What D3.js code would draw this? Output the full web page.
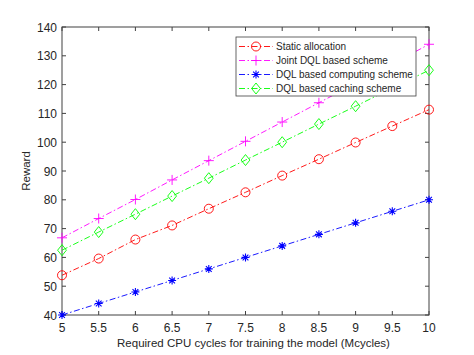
<!DOCTYPE html>
<html>
<head>
<meta charset="utf-8">
<script src="https://cdn.jsdelivr.net/npm/d3@7/dist/d3.min.js"></script>
<style>
  html, body { margin: 0; padding: 0; background: #fff; }
  svg text { font-family: "Liberation Sans", Arial, sans-serif; fill: #262626; }
</style>
</head>
<body>
<div id="chart"></div>
<script>
// data
var cycles = [5, 5.5, 6, 6.5, 7, 7.5, 8, 8.5, 9, 9.5, 10];
var staticAlloc = [53.8, 59.6, 66.2, 71.1, 76.9, 82.6, 88.4, 94.1, 99.9, 105.6, 111.3];
var jointDql    = [66.8, 73.5, 80.1, 86.9, 93.6, 100.3, 107, 113.7, 120.4, 127.1, 134];
var dqlCompute  = [40, 44, 48, 52, 56, 60, 64, 68, 72, 76, 80];
var dqlCache    = [62.5, 68.8, 75, 81.3, 87.5, 93.8, 100, 106.3, 112.5, 118.8, 125];
var seriesNames = ['Static allocation', 'Joint DQL based scheme',
                   'DQL based computing scheme', 'DQL based caching scheme'];
var yTicks = [40, 50, 60, 70, 80, 90, 100, 110, 120, 130, 140];

var W = 474, H = 355;
var m = { left: 62, right: 45, top: 27, bottom: 40 };

var series = [
  { name: seriesNames[0], values: staticAlloc, color: '#ff0000', marker: 'circle' },
  { name: seriesNames[1], values: jointDql,    color: '#ff00ff', marker: 'plus' },
  { name: seriesNames[2], values: dqlCompute,  color: '#0000ff', marker: 'star' },
  { name: seriesNames[3], values: dqlCache,    color: '#00ff00', marker: 'diamond' }
];

var svg = d3.select('#chart').append('svg').attr('width', W).attr('height', H);

var x = d3.scaleLinear().domain([5, 10]).range([m.left, W - m.right]);
var y = d3.scaleLinear().domain([40, 140]).range([H - m.bottom, m.top]);

var axisColor = '#404040';

// box
svg.append('rect')
  .attr('x', x(5)).attr('y', y(140))
  .attr('width', x(10) - x(5)).attr('height', y(40) - y(140))
  .attr('fill', 'none').attr('stroke', axisColor).attr('stroke-width', 1);

// ticks on all four sides, pointing in
var tk = 4;
cycles.forEach(function (v) {
  svg.append('line').attr('x1', x(v)).attr('x2', x(v)).attr('y1', y(40)).attr('y2', y(40) - tk).attr('stroke', axisColor);
  svg.append('line').attr('x1', x(v)).attr('x2', x(v)).attr('y1', y(140)).attr('y2', y(140) + tk).attr('stroke', axisColor);
  svg.append('text').attr('x', x(v)).attr('y', y(40) + 17)
    .attr('text-anchor', 'middle').attr('font-size', '12px').text(d3.format('')(v));
});
yTicks.forEach(function (v) {
  svg.append('line').attr('x1', x(5)).attr('x2', x(5) + tk).attr('y1', y(v)).attr('y2', y(v)).attr('stroke', axisColor);
  svg.append('line').attr('x1', x(10)).attr('x2', x(10) - tk).attr('y1', y(v)).attr('y2', y(v)).attr('stroke', axisColor);
  svg.append('text').attr('x', x(5) - 5).attr('y', y(v) + 4.5)
    .attr('text-anchor', 'end').attr('font-size', '12px').text(v);
});

// axis labels
svg.append('text').attr('x', (x(5) + x(10)) / 2 + 8).attr('y', H - 8)
  .attr('text-anchor', 'middle').attr('font-size', '11.5px')
  .text('Required CPU cycles for training the model (Mcycles)');
svg.append('text')
  .attr('transform', 'translate(30,' + ((y(40) + y(140)) / 2) + ') rotate(-90)')
  .attr('text-anchor', 'middle').attr('font-size', '11.5px').text('Reward');

function drawMarker(g, type, cx, cy, color) {
  if (type === 'circle') {
    g.append('circle').attr('cx', cx).attr('cy', cy).attr('r', 4.5)
      .attr('fill', 'none').attr('stroke', color).attr('stroke-width', 0.9);
  } else if (type === 'plus') {
    g.append('path').attr('d', 'M' + (cx - 5) + ',' + cy + 'H' + (cx + 5) + 'M' + cx + ',' + (cy - 5) + 'V' + (cy + 5))
      .attr('stroke', color).attr('stroke-width', 0.9);
  } else if (type === 'star') {
    var r = 4, d = r * 0.72;
    g.append('path').attr('d',
      'M' + (cx - r) + ',' + cy + 'H' + (cx + r) +
      'M' + cx + ',' + (cy - r) + 'V' + (cy + r) +
      'M' + (cx - d) + ',' + (cy - d) + 'L' + (cx + d) + ',' + (cy + d) +
      'M' + (cx - d) + ',' + (cy + d) + 'L' + (cx + d) + ',' + (cy - d))
      .attr('stroke', color).attr('stroke-width', 1.1);
  } else if (type === 'diamond') {
    var s = 5.5;
    g.append('path').attr('d', 'M' + cx + ',' + (cy - s) + 'L' + (cx + s * 0.8) + ',' + cy +
      'L' + cx + ',' + (cy + s) + 'L' + (cx - s * 0.8) + ',' + cy + 'Z')
      .attr('fill', 'none').attr('stroke', color).attr('stroke-width', 0.9);
  }
}

var line = d3.line().x(function (d) { return x(d[0]); }).y(function (d) { return y(d[1]); });

series.forEach(function (s) {
  var pts = cycles.map(function (c, i) { return [c, s.values[i]]; });
  var g = svg.append('g');
  g.append('path').datum(pts).attr('d', line)
    .attr('fill', 'none').attr('stroke', s.color).attr('stroke-width', 0.9)
    .attr('stroke-dasharray', '6,2.5,1.5,2.5');
  pts.forEach(function (p) { drawMarker(g, s.marker, x(p[0]), y(p[1]), s.color); });
});

// legend
var lg = svg.append('g');
lg.append('rect').attr('x', 236).attr('y', 37).attr('width', 180).attr('height', 59)
  .attr('fill', '#fff').attr('stroke', axisColor).attr('stroke-width', 0.8);
series.forEach(function (s, i) {
  var ly = 46.5 + i * 14;
  lg.append('line').attr('x1', 239).attr('x2', 273).attr('y1', ly).attr('y2', ly)
    .attr('stroke', s.color).attr('stroke-width', 0.9).attr('stroke-dasharray', '6,2.5,1.5,2.5');
  drawMarker(lg, s.marker, 256, ly, s.color);
  lg.append('text').attr('x', 276).attr('y', ly + 3.5).attr('font-size', '10px').text(s.name);
});
</script>
</body>
</html>
